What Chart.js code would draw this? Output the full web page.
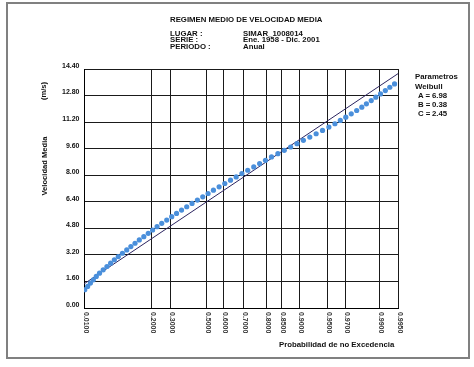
<!DOCTYPE html>
<html>
<head>
<meta charset="utf-8">
<script src="https://cdn.jsdelivr.net/npm/chart.js@4/dist/chart.umd.min.js"></script>
<style>
  body { margin: 0; background: #fff; overflow: hidden; }
  #wrap { position: relative; width: 474px; height: 367px; font-family: Arial, "Liberation Sans", sans-serif; font-weight: bold; color: #111; }
  #frame { position: absolute; left: 6px; top: 2px; width: 464px; height: 357px; box-sizing: border-box; border: 2px solid #808080; }
  #c { position: absolute; left: 0; top: 0; }
  .t { position: absolute; font-size: 7.8px; line-height: 7.8px; white-space: nowrap; }
  .rot { position: absolute; font-size: 7.6px; line-height: 7.6px; white-space: nowrap; transform: translate(-50%, -50%) rotate(-90deg); }
</style>
</head>
<body>
<div id="wrap">
  <div id="frame"></div>
  <canvas id="c" width="474" height="367"></canvas>

  <div class="t" style="left:170px; top:15.5px">REGIMEN MEDIO DE VELOCIDAD MEDIA</div>
  <div class="t" style="left:170px; top:30px">LUGAR :</div>
  <div class="t" style="left:170px; top:36.4px">SERIE :</div>
  <div class="t" style="left:170px; top:42.6px">PERIODO :</div>
  <div class="t" style="left:243px; top:30px">SIMAR_1008014</div>
  <div class="t" style="left:243px; top:36.4px">Ene. 1958 - Dic. 2001</div>
  <div class="t" style="left:243px; top:42.6px">Anual</div>

  <div class="t" style="left:415px; top:73px">Parametros</div>
  <div class="t" style="left:415px; top:83px">Weibull</div>
  <div class="t" style="left:418px; top:91.7px">A =</div>
  <div class="t" style="left:432px; top:91.7px">6.98</div>
  <div class="t" style="left:418px; top:101px">B =</div>
  <div class="t" style="left:432px; top:101px">0.38</div>
  <div class="t" style="left:418px; top:110px">C =</div>
  <div class="t" style="left:432px; top:110px">2.45</div>

  <div class="rot" style="left:44px; top:91px">(m/s)</div>
  <div class="rot" style="left:45px; top:166px">Velocidad Media</div>
  <div class="t" style="left:279px; top:340.7px">Probabilidad de no Excedencia</div>
</div>

<script>
// Weibull shape (C) used for the probability paper on the x axis
const SHAPE = 2.45;

const xTickProbs = [0.01, 0.2, 0.3, 0.5, 0.6, 0.7, 0.8, 0.85, 0.9, 0.95, 0.97, 0.99, 0.995];
const xTickLabels = ['0.0100', '0.2000', '0.3000', '0.5000', '0.6000', '0.7000', '0.8000',
                     '0.8500', '0.9000', '0.9500', '0.9700', '0.9900', '0.9950'];
const yTicks = [0, 1.6, 3.2, 4.8, 6.4, 8.0, 9.6, 11.2, 12.8, 14.4];
const yTickLabels = ['0.00', '1.60', '3.20', '4.80', '6.40', '8.00', '9.60', '11.20', '12.80', '14.40'];

// observed points (velocity m/s, non-exceedance probability)
const obsVelocity = [1.1, 1.3, 1.5, 1.7, 1.9, 2.1, 2.3, 2.5, 2.7, 2.9,
                     3.1, 3.3, 3.5, 3.7, 3.9, 4.1, 4.3, 4.5, 4.7, 4.9,
                     5.1, 5.3, 5.5, 5.7, 5.9, 6.1, 6.3, 6.5, 6.7, 6.9,
                     7.1, 7.3, 7.5, 7.7, 7.9, 8.1, 8.3, 8.5, 8.7, 8.9,
                     9.1, 9.3, 9.5, 9.7, 9.9, 10.1, 10.3, 10.5, 10.7, 10.9,
                     11.1, 11.3, 11.5, 11.7, 11.9, 12.1, 12.3, 12.5, 12.7, 12.9,
                     13.1, 13.3, 13.5];
const obsProb = [0.0107, 0.0137, 0.0170, 0.0209, 0.0253, 0.0307, 0.0377, 0.0455, 0.0541, 0.0636,
                 0.0745, 0.0870, 0.1011, 0.1156, 0.1312, 0.1483, 0.1673, 0.1871, 0.2072, 0.2289,
                 0.2523, 0.2783, 0.3051, 0.3316, 0.3596, 0.3890, 0.4196, 0.4504, 0.4812, 0.5117,
                 0.5420, 0.5738, 0.6047, 0.6348, 0.6640, 0.6920, 0.7196, 0.7466, 0.7713, 0.7945,
                 0.8168, 0.8386, 0.8586, 0.8768, 0.8932, 0.9080, 0.9212, 0.9328, 0.9431, 0.9521,
                 0.9595, 0.9653, 0.9705, 0.9750, 0.9789, 0.9821, 0.9846, 0.9869, 0.9888, 0.9905,
                 0.9920, 0.9932, 0.9943];

// fitted Weibull line, end points
const fitProb = [0.01, 0.995];
const fitVelocity = [1.45, 14.12];

function reduced(p) {
    return Math.pow(-Math.log(1 - p), 1 / SHAPE);
}

class WeibullScale extends Chart.Scale {
    static id = 'weibull';
    static defaults = {};

    determineDataLimits() {
        this.min = this.options.min;
        this.max = this.options.max;
    }
    buildTicks() {
        return xTickProbs.map(v => ({ value: v }));
    }
    configure() {
        super.configure();
        this._tStart = reduced(this.min);
        this._tRange = reduced(this.max) - this._tStart;
    }
    getLabelForValue(v) {
        return v.toFixed(4);
    }
    getPixelForValue(v) {
        return this.getPixelForDecimal((reduced(v) - this._tStart) / this._tRange);
    }
    getValueForPixel(px) {
        const t = this._tStart + this.getDecimalForPixel(px) * this._tRange;
        return 1 - Math.exp(-Math.pow(t, SHAPE));
    }
}
Chart.register(WeibullScale);

// x labels read top-to-bottom, like the original
const xLabelPlugin = {
    id: 'xLabels',
    afterDraw(chart) {
        const ctx = chart.ctx;
        const sx = chart.scales.x;
        const bottom = chart.chartArea.bottom;
        ctx.save();
        ctx.font = 'bold 7px Arial, "Liberation Sans", sans-serif';
        ctx.fillStyle = '#333';
        ctx.textAlign = 'left';
        ctx.textBaseline = 'alphabetic';
        sx.ticks.forEach((t, i) => {
            const x = sx.getPixelForValue(t.value);
            ctx.save();
            ctx.translate(x - 0.5, bottom + 4);
            ctx.rotate(Math.PI / 2);
            ctx.fillText(xTickLabels[i], 0, 0);
            ctx.restore();
        });
        ctx.restore();
    }
};

const fitData = fitProb.map((p, i) => ({ x: p, y: fitVelocity[i] }));
const obsData = obsProb.map((p, i) => ({ x: p, y: obsVelocity[i] }));

new Chart(document.getElementById('c'), {
    type: 'scatter',
    data: {
        datasets: [{
            data: obsData,
            pointRadius: 2.6,
            pointBackgroundColor: '#4a8fdb',
            pointBorderWidth: 0,
            order: 0
        }, {
            data: fitData,
            showLine: true,
            pointRadius: 0,
            borderColor: '#2c2560',
            borderWidth: 1,
            order: 1
        }]
    },
    options: {
        responsive: false,
        animation: false,
        layout: { padding: { left: 0, top: 69, right: 76, bottom: 59 } },
        plugins: { legend: { display: false }, tooltip: { enabled: false } },
        scales: {
            x: {
                type: 'weibull',
                min: 0.01,
                max: 0.995,
                ticks: { display: false },
                grid: { color: '#1a1a1a', lineWidth: 1, drawTicks: false },
                border: { color: '#000', width: 1 },
                afterFit: s => { s.height = 0; }
            },
            y: {
                min: 0,
                max: 14.4,
                afterBuildTicks: s => { s.ticks = yTicks.map(v => ({ value: v })); },
                ticks: {
                    callback: (v, i) => yTickLabels[i],
                    font: { family: 'Arial, "Liberation Sans", sans-serif', size: 7, weight: 'bold' },
                    color: '#111',
                    padding: 4.5,
                    labelOffset: -3
                },
                grid: { color: '#1a1a1a', lineWidth: 1, drawTicks: false },
                border: { color: '#000', width: 1 },
                afterFit: s => { s.width = 84; }
            }
        }
    },
    plugins: [xLabelPlugin]
});
</script>
</body>
</html>
